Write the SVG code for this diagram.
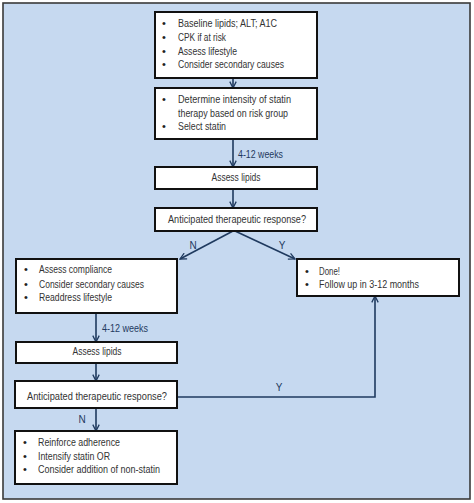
<svg xmlns="http://www.w3.org/2000/svg" width="474" height="503" viewBox="0 0 474 503">
<defs>
<marker id="ah" viewBox="0 0 10 10" refX="9" refY="5" markerWidth="8" markerHeight="8" markerUnits="userSpaceOnUse" orient="auto">
<path d="M1,1 L9,5 L1,9" fill="none" stroke="#1f3a5f" stroke-width="1.6"/>
</marker>
</defs>
<style>
.box{fill:#ffffff;stroke:#111111;stroke-width:2}
.t{font-family:"Liberation Sans",Arial,sans-serif;font-size:10px;fill:#333333;dominant-baseline:central}
.c{text-anchor:middle}
.b{font-family:"Liberation Sans",Arial,sans-serif;font-size:11px;fill:#222222;dominant-baseline:central}
.lbl{font-family:"Liberation Sans",Arial,sans-serif;font-size:10px;fill:#1f3a5f;dominant-baseline:central}
.ar{fill:none;stroke:#1f3a5f;stroke-width:1.6;marker-end:url(#ah)}
</style>
<rect x="3" y="3" width="467" height="496" fill="#c6d9f0" stroke="#3a3a3a" stroke-width="1.6"/>

<g id="connectors">
<path class="ar" d="M233,78 V88"/>
<path class="ar" d="M233,139 V167"/>
<text class="lbl" x="238" y="154" textLength="45" lengthAdjust="spacingAndGlyphs">4-12 weeks</text>
<path class="ar" d="M233,189 V208"/>
<path class="ar" d="M233,231 L180,259"/>
<path class="ar" d="M235,231 L295,259"/>
<text class="lbl" x="193" y="245" text-anchor="middle">N</text>
<text class="lbl" x="282" y="245" text-anchor="middle">Y</text>
<path class="ar" d="M96,313 V342"/>
<text class="lbl" x="102" y="328" textLength="46" lengthAdjust="spacingAndGlyphs">4-12 weeks</text>
<path class="ar" d="M96,363 V381"/>
<path class="ar" d="M177,397 H375 V296"/>
<text class="lbl" x="279" y="387" text-anchor="middle">Y</text>
<path class="ar" d="M96,408 V431"/>
<text class="lbl" x="82" y="419" text-anchor="middle">N</text>
</g>

<g id="n1">
<rect class="box" x="155" y="12" width="162" height="66"/>
<text class="b" x="162" y="23">•</text><text class="t" x="178" y="23" textLength="99" lengthAdjust="spacingAndGlyphs">Baseline lipids; ALT; A1C</text>
<text class="b" x="162" y="37">•</text><text class="t" x="178" y="37" textLength="48" lengthAdjust="spacingAndGlyphs">CPK if at risk</text>
<text class="b" x="162" y="51">•</text><text class="t" x="178" y="51" textLength="59" lengthAdjust="spacingAndGlyphs">Assess lifestyle</text>
<text class="b" x="162" y="64">•</text><text class="t" x="178" y="64" textLength="106" lengthAdjust="spacingAndGlyphs">Consider secondary causes</text>
</g>

<g id="n2">
<rect class="box" x="155" y="88" width="162" height="51"/>
<text class="b" x="162" y="99">•</text><text class="t" x="178" y="99" textLength="113" lengthAdjust="spacingAndGlyphs">Determine intensity of statin</text>
<text class="t" x="178" y="113" textLength="110" lengthAdjust="spacingAndGlyphs">therapy based on risk group</text>
<text class="b" x="162" y="126">•</text><text class="t" x="178" y="126" textLength="48" lengthAdjust="spacingAndGlyphs">Select statin</text>
</g>

<g id="n3">
<rect class="box" x="155" y="167" width="162" height="22"/>
<text class="t c" x="236" y="177" textLength="49" lengthAdjust="spacingAndGlyphs">Assess lipids</text>
</g>

<g id="n4">
<rect class="box" x="155" y="208" width="162" height="23"/>
<text class="t c" x="237" y="219" textLength="138" lengthAdjust="spacingAndGlyphs">Anticipated therapeutic response?</text>
</g>

<g id="n5">
<rect class="box" x="16" y="259" width="161" height="54"/>
<text class="b" x="24" y="269">•</text><text class="t" x="39" y="269" textLength="73" lengthAdjust="spacingAndGlyphs">Assess compliance</text>
<text class="b" x="24" y="284">•</text><text class="t" x="39" y="284" textLength="105" lengthAdjust="spacingAndGlyphs">Consider secondary causes</text>
<text class="b" x="24" y="297">•</text><text class="t" x="39" y="297" textLength="73" lengthAdjust="spacingAndGlyphs">Readdress lifestyle</text>
</g>

<g id="n6">
<rect class="box" x="297" y="259" width="162" height="37"/>
<text class="b" x="305" y="271">•</text><text class="t" x="319" y="271" textLength="21" lengthAdjust="spacingAndGlyphs">Done!</text>
<text class="b" x="305" y="284">•</text><text class="t" x="319" y="284" textLength="100" lengthAdjust="spacingAndGlyphs">Follow up in 3-12 months</text>
</g>

<g id="n7">
<rect class="box" x="16" y="342" width="161" height="21"/>
<text class="t c" x="97" y="351" textLength="49" lengthAdjust="spacingAndGlyphs">Assess lipids</text>
</g>

<g id="n8">
<rect class="box" x="15" y="381" width="162" height="27"/>
<text class="t c" x="97" y="396" textLength="140" lengthAdjust="spacingAndGlyphs">Anticipated therapeutic response?</text>
</g>

<g id="n9">
<rect class="box" x="15" y="431" width="162" height="53"/>
<text class="b" x="23" y="442">•</text><text class="t" x="38" y="442" textLength="82" lengthAdjust="spacingAndGlyphs">Reinforce adherence</text>
<text class="b" x="23" y="456">•</text><text class="t" x="38" y="456" textLength="72" lengthAdjust="spacingAndGlyphs">Intensify statin OR</text>
<text class="b" x="23" y="469">•</text><text class="t" x="38" y="469" textLength="122" lengthAdjust="spacingAndGlyphs">Consider addition of non-statin</text>
</g>
</svg>
